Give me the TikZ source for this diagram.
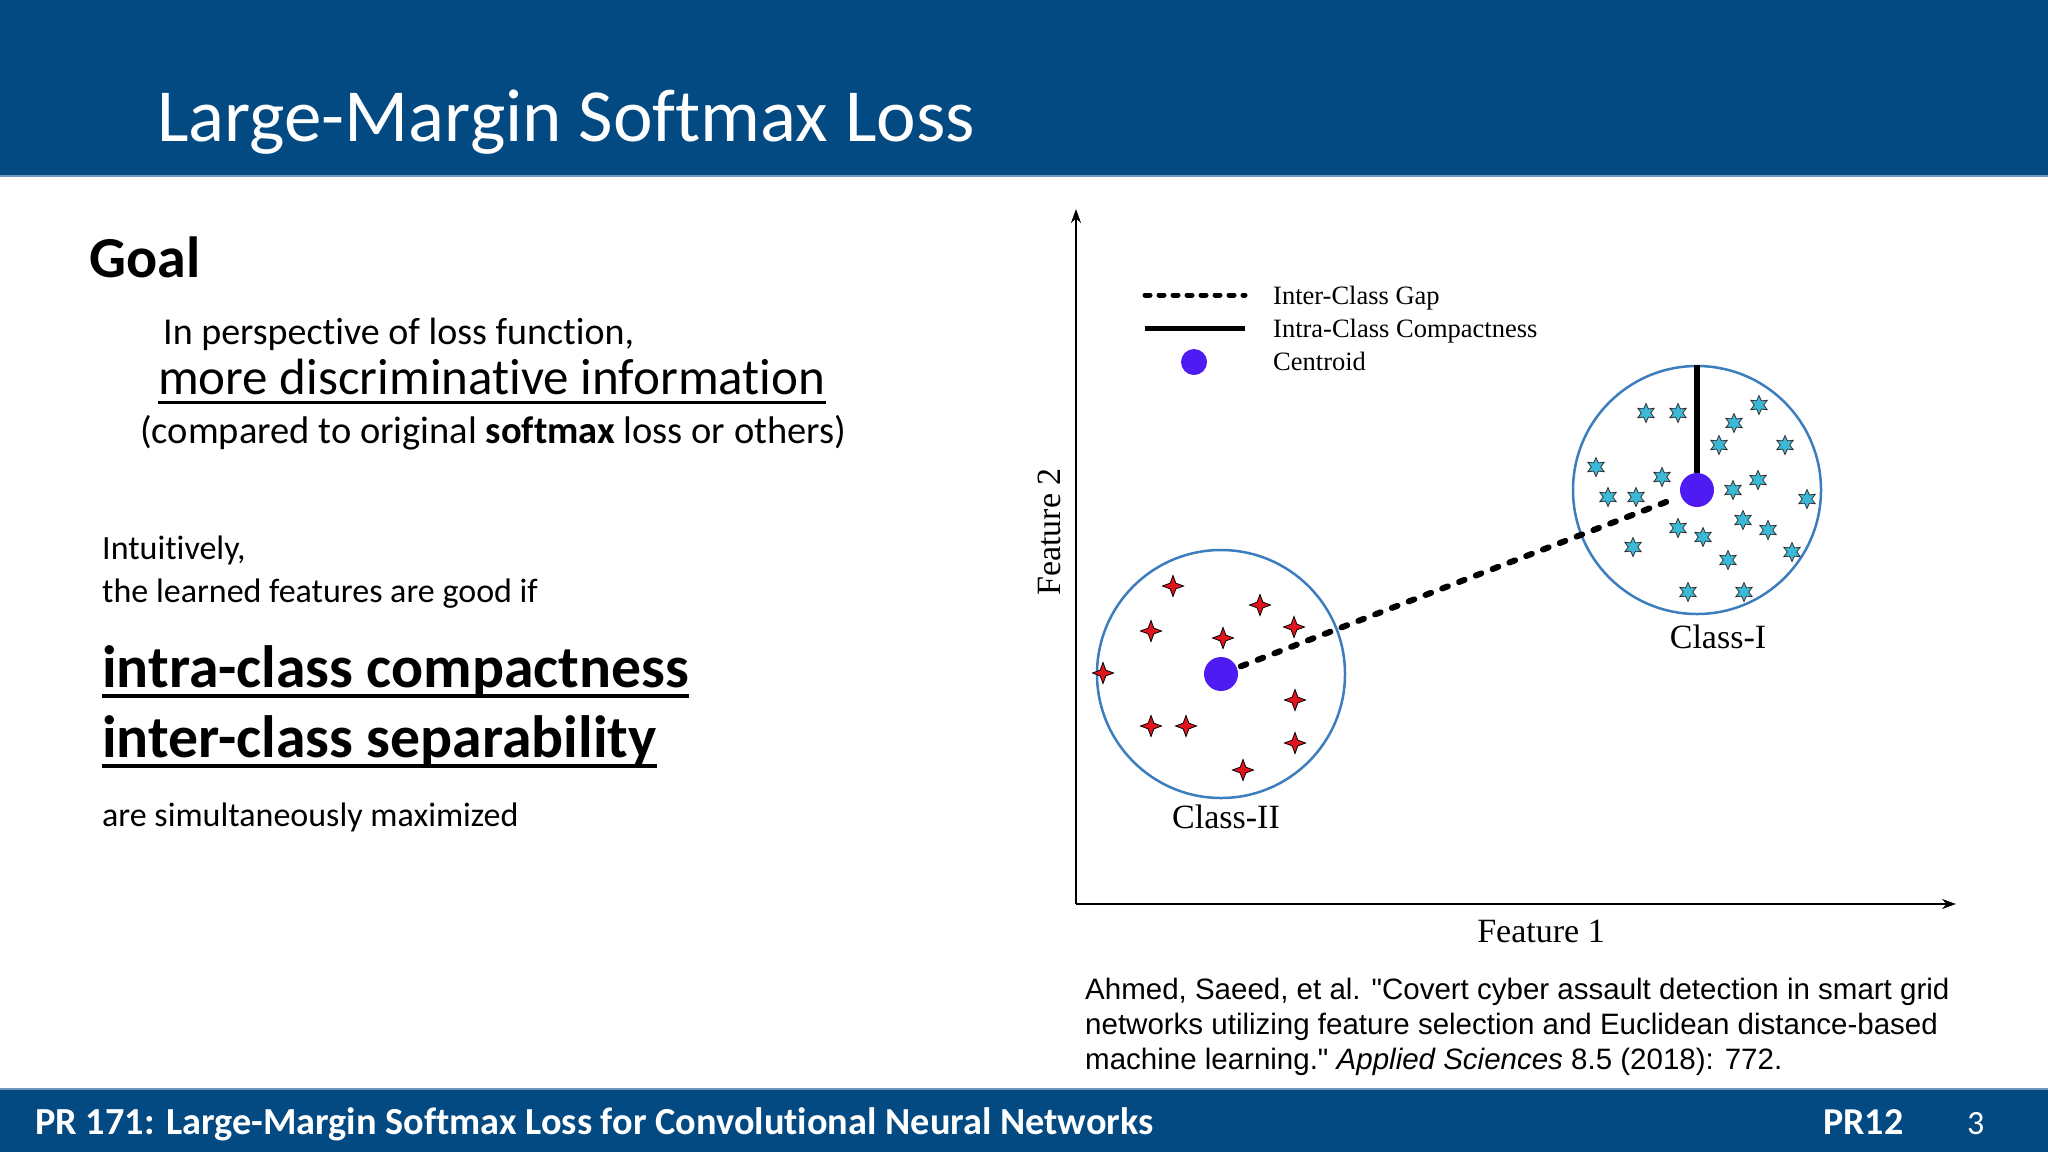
\documentclass[tikz,border=0pt]{standalone}
\usepackage{fontspec}
\setmainfont[Ligatures={TeX,NoCommon}]{Carlito}
\newfontfamily\timesf{Liberation Serif}
\newfontfamily\arialf[Ligatures=TeXOff]{Liberation Sans}
\usetikzlibrary{shapes.geometric,calc,arrows.meta}
\definecolor{hdr}{RGB}{3,74,130}
\definecolor{hdrline}{RGB}{110,150,190}
\definecolor{cent}{RGB}{78,28,242}
\definecolor{ringc}{RGB}{60,125,190}
\definecolor{cyanstar}{RGB}{60,185,215}
\definecolor{redstar}{RGB}{225,20,30}
\tikzset{
  bar/.style={fill=hdr, draw=none},
  txt/.style={inner sep=0pt, anchor=base west},
  centroid/.style={circle, fill=cent, minimum size=34pt, inner sep=0pt},
  ring/.style={circle, draw=ringc, line width=2.5pt, minimum size=248pt, inner sep=0pt},
  sixstar/.style={star, star points=6, star point ratio=2, fill=cyanstar, draw=black!80, line width=0.8pt, minimum size=19pt, inner sep=0pt},
  fourstar/.style={star, star points=4, star point ratio=2.6, fill=redstar, draw=black, line width=0.8pt, minimum size=21pt, inner sep=0pt},
  gapline/.style={dash pattern=on 6pt off 12pt, line width=6pt, line cap=round},
  intraline/.style={line width=6pt},
  axisline/.style={line width=2pt, -{Stealth[length=14pt,width=10pt]}},
  uline/.style={line width=3pt},
  ulinebold/.style={line width=4.5pt},
  plotlabel/.style={inner sep=0pt, font=\timesf\fontsize{34}{40}\selectfont},
  legendtxt/.style={txt, font=\timesf\fontsize{26.5}{32}\selectfont},
  cite/.style={txt, font=\arialf\fontsize{29.5}{35}\selectfont},
}
\begin{document}
\begin{tikzpicture}[x=1pt,y=-1pt]
\path[use as bounding box, fill=white] (0,0) rectangle (2048,1152);
% header and footer
\fill[hdr] (0,0) rectangle (2048,176);
\draw[hdrline, line width=1.5pt] (0,176) -- (2048,176);
\fill[hdr] (0,1089) rectangle (2048,1152);
\draw[hdrline, line width=1.5pt] (0,1089) -- (2048,1089);
\node[txt, text=white, font=\fontsize{75}{90}\selectfont] (title) at (157,141) {Large-Margin Softmax Loss};
\node[txt, text=white, font=\bfseries\fontsize{38.3}{40}\selectfont] (foot) at (35,1134) {PR 171: Large-Margin Softmax Loss for Convolutional Neural Networks};
\node[txt, text=white, font=\bfseries\fontsize{38}{40}\selectfont] (pr12) at (1823,1134) {PR12};
\node[txt, text=white, font=\fontsize{34}{40}\selectfont] (pnum) at (1967,1134) {3};
% left text
\node[txt, font=\bfseries\fontsize{58}{70}\selectfont] (goal) at (89,277) {Goal};
\node[txt, font=\fontsize{38}{46}\selectfont] (persp) at (163,344) {In perspective of loss function,};
\node[txt, font=\fontsize{51}{60}\selectfont] (disc) at (158,394) {more discriminative information};
\draw[uline] ($(disc.base west)+(0,8)$) -- ($(disc.base east)+(0,8)$);
\node[txt, font=\fontsize{38.5}{46}\selectfont] (comp) at (140,443) {(compared to original \textbf{softmax} loss or others)};
\node[txt, font=\fontsize{34}{40}\selectfont] (intu) at (102,559) {Intuitively,};
\node[txt, font=\fontsize{34}{40}\selectfont] (learn) at (102,602) {the learned features are good if};
\node[txt, font=\bfseries\fontsize{59.7}{70}\selectfont] (intra) at (102,687) {intra-class compactness};
\draw[ulinebold] ($(intra.base west)+(0,9)$) -- ($(intra.base east)+(0,9)$);
\node[txt, font=\bfseries\fontsize{59.7}{70}\selectfont] (inter) at (102,757) {inter-class separability};
\draw[ulinebold] ($(inter.base west)+(0,9)$) -- ($(inter.base east)+(0,9)$);
\node[txt, font=\fontsize{34}{40}\selectfont] (simul) at (102,826) {are simultaneously maximized};
% axes
\coordinate (O) at (1076,904);
\coordinate (Ytip) at (1076,209);
\coordinate (Xtip) at (1956,904);
\draw[axisline] (O) -- (Ytip);
\draw[axisline] (O) -- (Xtip);
\node[plotlabel] (f1) at (1541,931) {Feature 1};
\node[plotlabel, rotate=90] (f2) at (1049,532) {Feature 2};
% legend
\coordinate (lg1a) at (1145,295); \coordinate (lg1b) at (1245,295);
\coordinate (lg2a) at (1145,328); \coordinate (lg2b) at (1245,328);
\draw[dash pattern=on 5pt off 9pt, line width=5pt, line cap=round] (lg1a) -- (lg1b);
\draw[line width=5pt] (lg2a) -- (lg2b);
\node[centroid, minimum size=26pt] (lgdot) at (1194,362) {};
\node[legendtxt] (lt1) at (1273,304) {Inter-Class Gap};
\node[legendtxt] (lt2) at (1273,337) {Intra-Class Compactness};
\node[legendtxt] (lt3) at (1273,370) {Centroid};
% class I
\node[ring] (k1) at (1697,490) {};
\foreach \x/\y [count=\i] in {1646/413,1678/413,1759/405,1734/423,1719/445,1785/445,1596/467,1662/477,1758/480,1733/490,1608/497,1636/497,1807/499,1743/520,1768/530,1678/528,1703/537,1633/547,1792/552,1728/560,1688/592,1744/592}
  \node[sixstar] (a\i) at (\x,\y) {};
\node[centroid] (c1) at (1697,490) {};
\draw[intraline] (k1.north) -- (c1);
\node[plotlabel] (cl1) at (1718,637) {Class-I};
% class II
\node[ring] (k2) at (1221,674) {};
\foreach \x/\y [count=\i] in {1173/586,1260/605,1151/631,1223/638,1294/627,1103/673,1295/700,1151/726,1186/726,1295/743,1243/770}
  \node[fourstar] (b\i) at (\x,\y) {};
\node[centroid] (c2) at (1221,674) {};
\node[plotlabel] (cl2) at (1226,817) {Class-II};
\draw[gapline, shorten <=4pt, shorten >=8pt] (c2) -- (c1);
% citation
\node[cite] (ct1) at (1085,999) {Ahmed, Saeed, et al. "Covert cyber assault detection in smart grid};
\node[cite] (ct2) at (1085,1034) {networks utilizing feature selection and Euclidean distance-based};
\node[cite] (ct3) at (1085,1069) {machine learning." \textit{Applied Sciences} 8.5 (2018): 772.};
\end{tikzpicture}
\end{document}
